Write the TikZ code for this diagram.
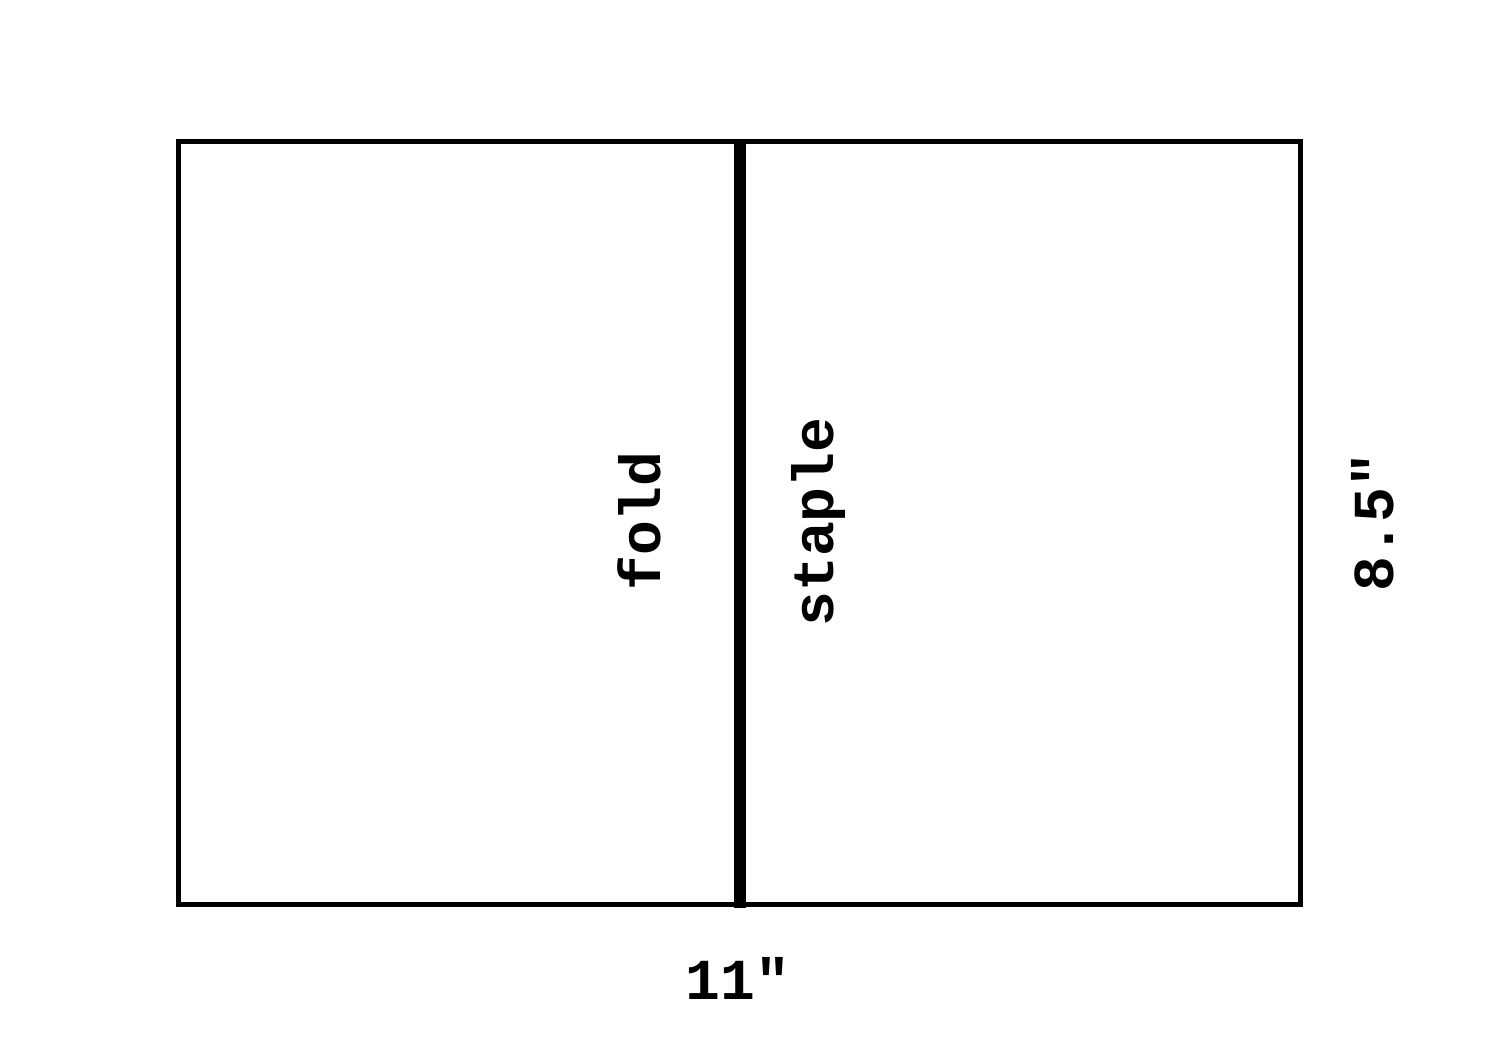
\documentclass[tikz,border=0pt]{standalone}
\usepackage{fontspec}
\setmonofont{Liberation Mono}
\begin{document}
\begin{tikzpicture}[x=0.5pt,y=0.5pt,
  lbl/.style={font=\ttfamily\bfseries\fontsize{29}{31}\selectfont, inner sep=0pt, anchor=base},
  sheet/.style={draw=black, line width=2.5pt},
  foldline/.style={draw=black, line width=6pt, line cap=butt}]
\useasboundingbox (0,0) rectangle (1500,1049);
\draw[sheet] (178,144) rectangle (1300,907);
\coordinate (ftop) at (740,908);
\coordinate (fbot) at (740,141);
\draw[foldline] (ftop) -- (fbot);
\node[lbl, rotate=90] (fold) at (660,528) {fold};
\node[lbl, rotate=90] (staple) at (833,527) {staple};
\node[lbl, rotate=90] (h) at (1393,527) {8.5"};
\node[lbl] (w) at (738,49) {11"};
\end{tikzpicture}
\end{document}
